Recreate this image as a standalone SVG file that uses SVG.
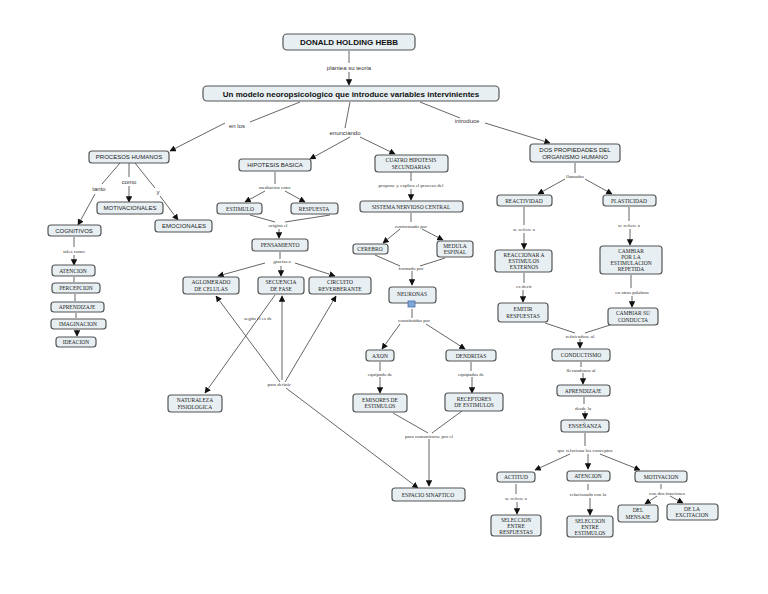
<svg xmlns="http://www.w3.org/2000/svg" width="768" height="594" viewBox="0 0 768 594">
<style>
.n{fill:#e8eff2;stroke:#555;stroke-width:1.2}
.t{font-family:"Liberation Serif",serif;font-size:5.5px;fill:#222;text-anchor:middle}
.s{font-family:"Liberation Sans",sans-serif;font-size:6px;fill:#222;text-anchor:middle}
.b{font-family:"Liberation Sans",sans-serif;font-size:8px;font-weight:bold;fill:#111;text-anchor:middle}
.l{font-family:"Liberation Serif",serif;font-size:5px;fill:#333;text-anchor:middle}
.ls{font-family:"Liberation Sans",sans-serif;font-size:6px;fill:#333;text-anchor:middle}
#c path{fill:none;stroke:#555;stroke-width:0.9}
.a{marker-end:url(#ar)}
</style>
<defs><marker id="ar" viewBox="0 0 10 10" refX="9" refY="5" markerWidth="7" markerHeight="7" orient="auto"><path d="M0,0L10,5L0,10z" fill="#111"/></marker></defs>
<rect width="768" height="594" fill="#fff"/>
<g id="c">
<path class="a" d="M349,51V63M349,72V85"/>
<path class="a" d="M225,123L170,151"/><path d="M300,102L250,122"/>
<path d="M350,102L345,128"/><path class="a" d="M350,137L310,159"/><path class="a" d="M360,137L395,154"/>
<path d="M420,102L460,118"/><path class="a" d="M485,123L550,143"/>
<path d="M120,163L102,184"/><path class="a" d="M95,194L78,225"/>
<path d="M129,163V177"/><path class="a" d="M129,186V202"/>
<path d="M135,163L155,188"/><path class="a" d="M160,196L178,220"/>
<path d="M74,237V247"/><path class="a" d="M74,255V265"/>
<path class="a" d="M74,277V282M75,294V301M76,313V318M77,330V336"/>
<path d="M275,172V184"/><path class="a" d="M265,191L245,202"/><path class="a" d="M285,191L305,202"/>
<path d="M250,215L275,222M330,215L285,222"/><path class="a" d="M279,229V238"/>
<path d="M280,252V259"/><path class="a" d="M265,263L218,276"/><path class="a" d="M281,266V276"/><path class="a" d="M295,263L335,276"/>
<path class="a" d="M275,295L205,393"/>
<path class="a" d="M280,382L216,296"/><path class="a" d="M282,380V296"/><path class="a" d="M285,382L336,296"/>
<path class="a" d="M286,388L418,488"/>
<path d="M411,172V181"/><path class="a" d="M411,189V200"/>
<path d="M411,213V222"/><path class="a" d="M400,229L383,243"/><path class="a" d="M422,229L443,240"/>
<path d="M375,255L400,266M445,258L420,266"/><path class="a" d="M412,271V285"/>
<path d="M412,309V318"/><path class="a" d="M400,324L382,349"/><path class="a" d="M426,324L465,349"/>
<path d="M380,362V371"/><path class="a" d="M380,377V393"/>
<path d="M471,362V371"/><path class="a" d="M472,377V393"/>
<path d="M393,413L428,433M462,411L432,433"/><path class="a" d="M429,439V486"/>
<path d="M575,163V173"/><path class="a" d="M565,179L538,194"/><path class="a" d="M585,179L612,194"/>
<path d="M524,207V225"/><path class="a" d="M524,233V249"/>
<path d="M629,207V221"/><path class="a" d="M630,229V245"/>
<path d="M524,273V283"/><path class="a" d="M523,290V302"/>
<path d="M631,275V288"/><path class="a" d="M632,296V307"/>
<path d="M545,323L575,333M610,325L585,333"/><path class="a" d="M580,339V348"/>
<path d="M581,362V367"/><path class="a" d="M583,373V384"/>
<path d="M584,397V404"/><path class="a" d="M585,411V419"/>
<path d="M585,433V446"/><path class="a" d="M570,454L535,470"/><path class="a" d="M588,454V469"/><path class="a" d="M600,454L640,470"/>
<path d="M516,484V494"/><path class="a" d="M517,502V514"/>
<path d="M588,484V490"/><path class="a" d="M590,498V515"/>
<path d="M661,484V489"/><path class="a" d="M657,496L645,504"/><path class="a" d="M670,496L683,503"/>
</g>
<g id="n1"><rect class="n" x="283" y="34" width="132" height="16" rx="4"/><text class="b" x="349" y="45">DONALD HOLDING HEBB</text></g>
<text class="ls" x="349" y="70">plantea su teoria</text>
<g id="n2"><rect class="n" x="203" y="86" width="296" height="15" rx="4"/><text class="b" x="351" y="96.5">Un modelo neoropsicologico que introduce variables intervinientes</text></g>
<text class="ls" x="237" y="128">en los</text><text class="ls" x="345" y="135">enunciando</text><text class="ls" x="467" y="123">introduce</text>
<g id="n3"><rect class="n" x="89" y="151" width="80" height="12" rx="3"/><text class="s" x="129" y="159">PROCESOS HUMANOS</text></g>
<g id="n4"><rect class="n" x="239" y="159" width="72" height="12" rx="3"/><text class="s" x="275" y="167">HIPOTESIS BASICA</text></g>
<g id="n5"><rect class="n" x="375" y="155" width="73" height="17" rx="3"/><text class="t" x="411" y="162">CUATRO HIPOTESIS</text><text class="t" x="411" y="168.5">SECUNDARIAS</text></g>
<g id="n6"><rect class="n" x="530" y="144" width="90" height="18" rx="3"/><text class="s" x="575" y="151.5">DOS PROPIEDADES DEL</text><text class="s" x="575" y="158.5">ORGANISMO HUMANO</text></g>
<text class="ls" x="99" y="191">tanto</text><text class="ls" x="129" y="184">como</text><text class="ls" x="158" y="194">y</text>
<g id="n7"><rect class="n" x="97" y="202" width="66" height="12" rx="3"/><text class="s" x="130" y="210">MOTIVACIONALES</text></g>
<g id="n8"><rect class="n" x="155" y="220" width="57" height="12" rx="3"/><text class="s" x="184" y="228">EMOCIONALES</text></g>
<g id="n9"><rect class="n" x="48" y="225" width="53" height="11" rx="3"/><text class="s" x="74" y="233">COGNITIVOS</text></g>
<text class="l" x="74" y="253">tales como</text>
<g id="n10"><rect class="n" x="52" y="265" width="43" height="11" rx="3"/><text class="t" x="73" y="272.5">ATENCION</text></g>
<g id="n11"><rect class="n" x="52" y="283" width="48" height="10" rx="3"/><text class="t" x="76" y="290">PERCEPCION</text></g>
<g id="n12"><rect class="n" x="51" y="302" width="53" height="10" rx="3"/><text class="t" x="77" y="309">APRENDIZAJE</text></g>
<g id="n13"><rect class="n" x="51" y="319" width="55" height="10" rx="3"/><text class="t" x="78" y="326">IMAGINACION</text></g>
<g id="n14"><rect class="n" x="56" y="337" width="40" height="10" rx="3"/><text class="t" x="76" y="344">IDEACION</text></g>
<text class="l" x="275" y="189">mediacion entre</text>
<g id="n15"><rect class="n" x="217" y="203" width="45" height="11" rx="3"/><text class="t" x="240" y="210.5">ESTIMULO</text></g>
<g id="n16"><rect class="n" x="291" y="203" width="47" height="11" rx="3"/><text class="t" x="314" y="210.5">RESPUESTA</text></g>
<text class="l" x="278" y="227">origina el</text>
<g id="n17"><rect class="n" x="252" y="239" width="56" height="12" rx="3"/><text class="t" x="280" y="247">PENSAMIENTO</text></g>
<text class="l" x="282" y="263">gracias a</text>
<g id="n18"><rect class="n" x="183" y="277" width="56" height="17" rx="3"/><text class="t" x="211" y="284">AGLOMERADO</text><text class="t" x="211" y="290.5">DE CELULAS</text></g>
<g id="n19"><rect class="n" x="258" y="277" width="46" height="17" rx="3"/><text class="t" x="281" y="284">SECUENCIA</text><text class="t" x="281" y="290.5">DE FASE</text></g>
<g id="n20"><rect class="n" x="309" y="277" width="62" height="17" rx="3"/><text class="t" x="340" y="284">CIRCUITO</text><text class="t" x="340" y="290.5">REVERBERANTE</text></g>
<text class="l" x="258" y="320">según él  es de</text>
<g id="n21"><rect class="n" x="168" y="395" width="54" height="17" rx="3"/><text class="t" x="195" y="402">NATURALEZA</text><text class="t" x="195" y="408.5">FISIOLOGICA</text></g>
<text class="l" x="279" y="386">para definir</text>
<g id="n22"><rect class="n" x="392" y="488" width="73" height="13" rx="3"/><text class="t" x="428" y="496.5">ESPACIO SINAPTICO</text></g>
<text class="l" x="411" y="187">propone y explica el proceso del</text>
<g id="n23"><rect class="n" x="360" y="201" width="103" height="11" rx="3"/><text class="t" x="411" y="208.5">SISTEMA NERVIOSO CENTRAL</text></g>
<text class="l" x="411" y="228">conformado por</text>
<g id="n24"><rect class="n" x="353" y="244" width="35" height="10" rx="3"/><text class="t" x="370" y="251">CEREBRO</text></g>
<g id="n25"><rect class="n" x="437" y="241" width="36" height="16" rx="3"/><text class="t" x="455" y="247.5">MEDULA</text><text class="t" x="455" y="254">ESPINAL</text></g>
<text class="l" x="411" y="270">formado por</text>
<g id="n26"><rect class="n" x="389" y="287" width="47" height="16" rx="3"/><text class="t" x="412" y="296">NEURONAS</text><rect x="408" y="301" width="7" height="6" fill="#7fa7d8" stroke="#4a6fa8" stroke-width="0.8"/></g>
<text class="l" x="414" y="322">constituidas por</text>
<g id="n27"><rect class="n" x="366" y="350" width="28" height="11" rx="3"/><text class="t" x="380" y="357.5">AXON</text></g>
<g id="n28"><rect class="n" x="446" y="350" width="50" height="11" rx="3"/><text class="t" x="471" y="357.5">DENDRITAS</text></g>
<text class="l" x="380" y="376">equipado de</text><text class="l" x="471" y="376">equipadas de</text>
<g id="n29"><rect class="n" x="353" y="394" width="54" height="18" rx="3"/><text class="t" x="380" y="401.5">EMISORES DE</text><text class="t" x="380" y="408">ESTIMULOS</text></g>
<g id="n30"><rect class="n" x="445" y="393" width="58" height="18" rx="3"/><text class="t" x="474" y="400.5">RECEPTORES</text><text class="t" x="474" y="407">DE ESTIMULOS</text></g>
<text class="l" x="429" y="438">para comunicarse por el</text>
<text class="l" x="575" y="178">llamadas</text>
<g id="n31"><rect class="n" x="497" y="195" width="55" height="11" rx="3"/><text class="t" x="524" y="202.5">REACTIVIDAD</text></g>
<g id="n32"><rect class="n" x="603" y="195" width="53" height="11" rx="3"/><text class="t" x="629" y="202.5">PLASTICIDAD</text></g>
<text class="l" x="524" y="231">se refiere a</text><text class="l" x="629" y="227">se refiere a</text>
<g id="n33"><rect class="n" x="495" y="250" width="57" height="22" rx="3"/><text class="t" x="524" y="256.5">REACCIONAR A</text><text class="t" x="524" y="262.5">ESTIMULOS</text><text class="t" x="524" y="268.5">EXTERNOS</text></g>
<g id="n34"><rect class="n" x="600" y="246" width="62" height="28" rx="3"/><text class="t" x="631" y="253">CAMBIAR</text><text class="t" x="631" y="259">POR LA</text><text class="t" x="631" y="265">ESTIMULACION</text><text class="t" x="631" y="271">REPETIDA</text></g>
<text class="l" x="524" y="288">es decir</text><text class="l" x="632" y="294">en otras palabras</text>
<g id="n35"><rect class="n" x="498" y="303" width="50" height="19" rx="3"/><text class="t" x="523" y="311">EMITIR</text><text class="t" x="523" y="317.5">RESPUESTAS</text></g>
<g id="n36"><rect class="n" x="608" y="308" width="50" height="17" rx="3"/><text class="t" x="633" y="315">CAMBIAR SU</text><text class="t" x="633" y="321.5">CONDUCTA</text></g>
<text class="l" x="580" y="338">refiriendose al</text>
<g id="n37"><rect class="n" x="552" y="349" width="58" height="12" rx="3"/><text class="t" x="581" y="357">CONDUCTISMO</text></g>
<text class="l" x="581" y="372">llevandonos al</text>
<g id="n38"><rect class="n" x="557" y="385" width="53" height="11" rx="3"/><text class="t" x="583" y="392.5">APRENDIZAJE</text></g>
<text class="l" x="583" y="410">desde la</text>
<g id="n39"><rect class="n" x="561" y="420" width="48" height="12" rx="3"/><text class="t" x="585" y="428">ENSEÑANZA</text></g>
<text class="l" x="585" y="452">que relaciona los conceptos</text>
<g id="n40"><rect class="n" x="497" y="472" width="38" height="10" rx="3"/><text class="t" x="516" y="479">ACTITUD</text></g>
<g id="n41"><rect class="n" x="567" y="471" width="43" height="10" rx="3"/><text class="t" x="588" y="478">ATENCION</text></g>
<g id="n42"><rect class="n" x="635" y="471" width="52" height="11" rx="3"/><text class="t" x="661" y="478.5">MOTIVACION</text></g>
<text class="l" x="516" y="500">se refiere a</text><text class="l" x="588" y="496">relacionada con la</text><text class="l" x="667" y="495">con dos funciones</text>
<g id="n43"><rect class="n" x="491" y="515" width="50" height="21" rx="3"/><text class="t" x="516" y="522">SELECCION</text><text class="t" x="516" y="528">ENTRE</text><text class="t" x="516" y="534">RESPUESTAS</text></g>
<g id="n44"><rect class="n" x="567" y="516" width="46" height="21" rx="3"/><text class="t" x="590" y="523">SELECCION</text><text class="t" x="590" y="529">ENTRE</text><text class="t" x="590" y="535">ESTIMULOS</text></g>
<g id="n45"><rect class="n" x="618" y="505" width="40" height="17" rx="3"/><text class="t" x="638" y="512">DEL</text><text class="t" x="638" y="518.5">MENSAJE</text></g>
<g id="n46"><rect class="n" x="667" y="504" width="51" height="16" rx="3"/><text class="t" x="692" y="510.5">DE LA</text><text class="t" x="692" y="517">EXCITACION</text></g>
</svg>
